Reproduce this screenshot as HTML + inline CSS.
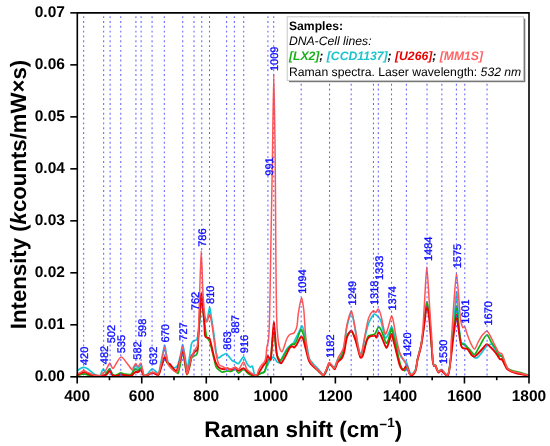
<!DOCTYPE html><html><head><meta charset="utf-8"><style>html,body{margin:0;padding:0;background:#fff;}svg{display:block;font-family:"Liberation Sans",Arial,sans-serif;text-rendering:geometricPrecision;}</style></head><body>
<svg width="550" height="446" viewBox="0 0 550 446">
<rect width="550" height="446" fill="#fff"/>
<path d="M77.50,370.60 C77.84,370.36 79.64,368.87 80.40,368.50 C81.16,368.13 83.16,367.36 84.00,367.40 C84.84,367.44 86.75,368.30 87.60,368.80 C88.45,369.30 90.45,371.02 91.30,371.70 C92.15,372.38 93.89,374.13 94.90,374.60 C95.92,375.07 99.20,376.04 100.00,375.70 C100.80,375.36 101.41,372.50 101.80,371.70 C102.19,370.89 102.96,368.84 103.30,368.80 C103.64,368.76 104.33,370.97 104.70,371.40 C105.07,371.83 106.07,372.63 106.50,372.50 C106.93,372.37 108.02,370.69 108.40,370.30 C108.79,369.92 109.43,368.94 109.80,369.20 C110.17,369.46 111.21,371.82 111.60,372.50 C111.98,373.18 112.59,374.62 113.10,375.00 C113.61,375.38 114.73,375.71 116.00,375.80 C117.27,375.89 122.24,375.88 124.00,375.80 C125.76,375.72 130.01,375.73 131.10,375.10 C132.19,374.47 132.75,371.51 133.30,370.40 C133.85,369.29 135.25,365.86 135.80,365.60 C136.35,365.34 137.41,368.24 138.00,368.20 C138.59,368.16 140.38,365.09 140.90,365.30 C141.43,365.51 142.16,368.86 142.50,370.00 C142.84,371.14 143.28,374.58 143.80,375.10 C144.33,375.62 146.00,375.22 147.00,374.50 C148.00,373.78 151.07,369.03 152.40,368.90 C153.73,368.77 157.40,374.20 158.40,373.40 C159.40,372.59 160.28,365.24 161.00,362.00 C161.72,358.76 163.98,346.53 164.60,345.60 C165.22,344.67 165.89,352.05 166.30,354.00 C166.71,355.95 167.67,361.07 168.10,362.30 C168.53,363.53 169.35,363.86 170.00,364.50 C170.65,365.14 172.80,367.71 173.70,367.80 C174.60,367.89 176.88,366.89 177.70,365.30 C178.52,363.71 180.12,356.62 180.70,354.20 C181.28,351.78 182.22,344.48 182.70,344.60 C183.18,344.72 184.33,352.57 184.80,355.20 C185.27,357.82 186.38,365.61 186.70,367.10 C187.01,368.59 187.19,369.10 187.50,368.00 C187.81,366.90 188.94,360.48 189.40,357.70 C189.86,354.92 190.93,346.16 191.40,344.20 C191.87,342.24 192.85,341.37 193.40,340.90 C193.95,340.43 195.62,340.60 196.10,340.20 C196.58,339.80 197.10,339.27 197.50,337.50 C197.90,335.73 199.06,329.84 199.50,325.00 C199.94,320.16 200.89,297.75 201.30,296.00 C201.71,294.25 202.57,307.43 203.00,310.00 C203.43,312.57 204.52,316.81 205.00,318.00 C205.48,319.19 206.56,321.41 207.10,320.20 C207.64,318.99 209.12,308.07 209.60,307.60 C210.08,307.13 210.78,313.67 211.20,316.20 C211.62,318.73 212.79,326.48 213.20,329.30 C213.61,332.12 214.35,337.70 214.70,340.40 C215.05,343.09 215.77,350.35 216.20,352.40 C216.63,354.45 217.75,357.60 218.40,358.00 C219.05,358.40 220.88,356.32 221.80,355.80 C222.72,355.28 225.45,353.37 226.30,353.50 C227.15,353.63 228.45,356.11 229.10,356.90 C229.75,357.69 231.21,359.70 231.90,360.30 C232.59,360.90 234.22,361.62 235.00,362.00 C235.78,362.38 237.61,364.20 238.60,363.60 C239.59,363.00 242.53,356.90 243.50,356.90 C244.47,356.90 246.11,362.42 246.90,363.60 C247.69,364.78 249.65,366.67 250.30,367.00 C250.95,367.33 252.00,365.49 252.50,366.40 C253.00,367.31 254.02,373.82 254.60,374.80 C255.18,375.78 256.72,375.00 257.50,374.80 C258.28,374.60 260.47,373.49 261.30,373.10 C262.13,372.72 263.82,372.61 264.60,371.50 C265.38,370.39 267.21,365.05 268.00,363.60 C268.79,362.15 270.80,359.88 271.40,359.10 C272.00,358.32 272.65,356.90 273.10,356.90 C273.56,356.90 274.85,358.52 275.30,359.10 C275.75,359.68 276.45,361.50 277.00,361.90 C277.55,362.30 279.32,363.15 280.00,362.50 C280.68,361.85 282.01,357.89 282.80,356.30 C283.59,354.71 285.87,350.23 286.80,348.90 C287.73,347.57 290.02,345.60 290.80,344.90 C291.58,344.20 292.87,343.76 293.50,342.90 C294.13,342.04 295.57,338.76 296.20,337.50 C296.83,336.24 298.19,333.43 298.90,332.10 C299.61,330.77 301.59,325.62 302.30,326.10 C303.01,326.58 304.30,332.99 305.00,336.20 C305.70,339.41 307.78,350.93 308.30,353.60 C308.82,356.27 308.83,357.81 309.50,359.10 C310.17,360.40 312.96,363.52 314.00,364.70 C315.04,365.88 317.36,368.02 318.40,369.20 C319.44,370.38 322.07,374.30 322.90,374.80 C323.73,375.30 324.96,374.18 325.50,373.50 C326.04,372.82 327.08,370.13 327.50,369.00 C327.92,367.87 328.59,364.21 329.10,363.80 C329.61,363.39 331.25,365.13 331.90,365.50 C332.55,365.87 334.05,367.68 334.70,367.00 C335.35,366.32 336.78,361.01 337.50,359.70 C338.22,358.39 340.18,357.05 340.90,355.80 C341.62,354.55 343.00,352.36 343.70,349.00 C344.40,345.64 346.00,331.26 346.90,327.00 C347.80,322.74 350.47,312.38 351.40,312.50 C352.33,312.62 354.07,323.86 354.90,328.00 C355.73,332.14 357.76,344.90 358.50,348.00 C359.24,351.10 360.46,355.77 361.20,354.60 C361.94,353.43 363.94,341.65 364.80,338.00 C365.66,334.35 367.53,326.06 368.60,323.30 C369.67,320.54 372.86,315.04 374.00,314.30 C375.14,313.56 377.57,316.16 378.40,317.00 C379.23,317.84 380.31,319.08 381.10,321.50 C381.89,323.92 384.36,336.24 385.20,337.70 C386.04,339.16 387.56,335.26 388.30,334.00 C389.04,332.74 390.89,327.13 391.50,326.90 C392.11,326.67 392.99,330.32 393.50,332.00 C394.01,333.68 395.32,339.20 395.90,341.30 C396.48,343.40 397.87,348.12 398.50,350.00 C399.13,351.88 400.55,356.12 401.30,357.40 C402.05,358.68 404.27,360.37 404.90,361.00 C405.53,361.63 406.18,361.57 406.70,362.80 C407.22,364.03 408.77,370.16 409.40,371.50 C410.03,372.84 411.37,374.59 412.10,374.30 C412.84,374.01 415.07,370.77 415.70,369.00 C416.33,367.23 416.87,361.92 417.50,359.10 C418.13,356.28 420.37,348.56 421.10,344.80 C421.84,341.04 423.28,330.96 423.80,326.90 C424.32,322.84 425.25,312.79 425.60,310.00 C425.95,307.21 426.50,303.23 426.80,303.00 C427.10,302.77 427.92,306.95 428.20,308.00 C428.48,309.05 428.87,308.73 429.20,312.00 C429.53,315.27 430.58,330.30 431.00,336.00 C431.42,341.70 432.45,357.46 432.80,360.90 C433.15,364.34 433.69,365.02 434.00,365.50 C434.31,365.98 435.21,364.71 435.50,365.00 C435.79,365.29 436.16,367.24 436.50,368.00 C436.84,368.76 437.85,371.32 438.40,371.50 C438.95,371.68 440.48,369.32 441.20,369.50 C441.92,369.68 443.88,372.31 444.60,373.00 C445.32,373.69 446.89,375.59 447.40,375.40 C447.91,375.21 448.62,373.43 449.00,371.40 C449.38,369.37 450.30,361.52 450.70,358.00 C451.10,354.48 451.98,345.87 452.40,341.20 C452.82,336.53 453.81,323.76 454.30,318.00 C454.79,312.24 456.17,292.73 456.60,291.80 C457.03,290.87 457.69,305.61 458.00,310.00 C458.31,314.39 458.94,325.67 459.30,329.40 C459.66,333.13 460.47,340.32 461.10,342.00 C461.73,343.68 463.86,342.97 464.70,343.80 C465.54,344.63 467.36,347.68 468.30,349.10 C469.25,350.52 471.97,354.96 472.80,356.00 C473.63,357.04 474.85,357.82 475.40,358.00 C475.95,358.18 476.87,357.97 477.50,357.50 C478.13,357.03 480.04,354.93 480.80,354.00 C481.56,353.07 483.30,350.43 484.00,349.50 C484.70,348.57 486.22,346.57 486.80,346.00 C487.38,345.43 488.39,344.80 489.00,344.60 C489.61,344.40 491.37,343.79 492.00,344.30 C492.63,344.81 493.64,347.90 494.40,349.00 C495.16,350.10 497.64,352.84 498.50,353.70 C499.36,354.56 501.17,355.45 501.80,356.40 C502.43,357.34 503.27,360.39 503.90,361.80 C504.53,363.21 506.25,367.43 507.20,368.50 C508.14,369.57 510.82,370.53 512.00,371.00 C513.18,371.47 516.05,372.15 517.30,372.50 C518.55,372.85 521.39,373.60 522.70,374.00 C524.01,374.40 527.82,375.68 528.50,375.90" fill="none" stroke="#14c8d8" stroke-width="1.7" stroke-linejoin="round" stroke-linecap="round"/>
<path d="M77.50,375.50 C78.26,375.30 82.54,373.80 84.00,373.80 C85.46,373.80 88.13,375.24 90.00,375.50 C91.87,375.76 98.25,376.11 100.00,376.00 C101.75,375.89 104.15,375.07 105.00,374.60 C105.85,374.13 106.74,372.71 107.30,372.00 C107.86,371.29 109.30,368.38 109.80,368.50 C110.30,368.62 111.21,372.24 111.60,373.00 C111.98,373.76 112.59,374.77 113.10,375.00 C113.61,375.23 115.09,375.25 116.00,375.00 C116.91,374.75 119.91,372.99 120.90,372.90 C121.89,372.81 123.31,374.02 124.50,374.20 C125.69,374.38 130.05,374.77 131.10,374.40 C132.15,374.03 132.95,371.64 133.50,371.00 C134.05,370.36 135.28,368.98 135.80,368.90 C136.33,368.82 137.41,370.43 138.00,370.30 C138.59,370.17 140.38,367.66 140.90,367.80 C141.43,367.94 142.16,370.62 142.50,371.50 C142.84,372.38 143.28,374.86 143.80,375.30 C144.33,375.74 146.00,375.63 147.00,375.30 C148.00,374.97 151.07,372.59 152.40,372.50 C153.73,372.41 157.40,375.14 158.40,374.50 C159.40,373.86 160.28,369.04 161.00,367.00 C161.72,364.96 163.96,357.64 164.60,357.00 C165.24,356.36 166.09,360.68 166.50,361.50 C166.91,362.32 167.68,363.53 168.10,364.00 C168.52,364.47 169.16,364.57 170.10,365.50 C171.04,366.43 175.25,371.12 176.20,372.00 C177.14,372.88 177.76,373.70 178.20,373.00 C178.64,372.30 179.47,368.45 180.00,366.00 C180.53,363.55 182.12,352.23 182.70,352.00 C183.28,351.77 184.51,361.38 185.00,364.00 C185.49,366.62 186.38,374.15 186.90,374.50 C187.43,374.85 188.97,368.87 189.50,367.00 C190.03,365.13 190.94,359.75 191.40,358.50 C191.86,357.25 192.85,356.71 193.40,356.30 C193.95,355.89 195.62,355.50 196.10,355.00 C196.58,354.50 197.23,354.10 197.50,352.00 C197.77,349.90 198.11,341.67 198.40,337.00 C198.69,332.33 199.65,316.67 200.00,312.00 C200.35,307.33 201.11,297.82 201.40,297.00 C201.69,296.18 202.19,302.32 202.50,305.00 C202.81,307.68 203.74,316.97 204.10,320.00 C204.46,323.03 205.31,329.07 205.60,331.00 C205.89,332.93 206.27,335.51 206.60,336.50 C206.93,337.49 208.00,338.86 208.40,339.50 C208.80,340.14 209.62,340.89 210.00,342.00 C210.38,343.11 211.23,347.07 211.70,349.00 C212.17,350.93 213.47,356.40 214.00,358.50 C214.53,360.60 215.29,365.43 216.20,367.00 C217.11,368.57 220.49,371.55 221.80,372.00 C223.11,372.45 226.35,370.96 227.40,370.90 C228.45,370.84 229.88,371.70 230.80,371.50 C231.72,371.30 234.39,369.01 235.30,369.20 C236.21,369.39 237.64,373.10 238.60,373.10 C239.56,373.10 242.40,369.15 243.50,369.20 C244.60,369.25 246.95,372.76 248.00,373.50 C249.05,374.24 251.47,375.27 252.50,375.50 C253.53,375.73 255.77,375.78 256.80,375.50 C257.83,375.22 260.39,373.57 261.30,373.10 C262.21,372.63 263.82,372.99 264.60,371.50 C265.38,370.01 267.28,361.82 268.00,360.30 C268.72,358.78 270.29,360.87 270.80,358.50 C271.31,356.13 272.05,343.09 272.40,340.00 C272.75,336.91 273.44,331.42 273.80,332.00 C274.16,332.58 275.13,342.32 275.50,345.00 C275.87,347.68 276.46,353.20 277.00,355.00 C277.54,356.80 279.40,360.17 280.10,360.40 C280.80,360.63 282.22,358.15 283.00,357.00 C283.78,355.85 285.73,351.99 286.80,350.50 C287.87,349.01 291.34,344.90 292.20,344.20 C293.06,343.50 293.65,344.99 294.20,344.50 C294.75,344.01 296.12,341.76 296.90,340.00 C297.68,338.24 300.13,329.98 300.90,329.40 C301.67,328.82 302.95,333.30 303.50,335.00 C304.05,336.70 305.04,341.43 305.60,344.00 C306.16,346.57 307.72,354.78 308.30,357.00 C308.88,359.22 309.94,361.83 310.60,363.00 C311.27,364.17 313.22,366.18 314.00,367.00 C314.78,367.82 316.52,369.26 317.30,370.00 C318.08,370.74 319.98,372.66 320.70,373.30 C321.42,373.94 322.79,376.00 323.50,375.50 C324.21,375.00 326.15,370.40 326.80,369.00 C327.45,367.60 328.51,363.85 329.10,363.50 C329.69,363.15 331.25,365.42 331.90,366.00 C332.55,366.58 334.05,369.02 334.70,368.50 C335.35,367.98 336.82,362.73 337.50,361.50 C338.18,360.27 339.78,359.23 340.50,358.00 C341.22,356.77 342.95,353.57 343.70,351.00 C344.45,348.43 346.00,338.29 346.90,336.00 C347.80,333.71 350.36,330.93 351.40,331.40 C352.44,331.87 354.76,337.13 355.80,340.00 C356.84,342.87 359.46,354.37 360.30,356.00 C361.14,357.63 362.26,355.87 363.00,354.00 C363.74,352.13 365.95,342.12 366.60,340.00 C367.25,337.88 367.63,336.50 368.60,335.80 C369.57,335.10 373.76,335.04 374.90,334.00 C376.04,332.96 377.68,327.37 378.40,326.90 C379.12,326.43 380.20,328.12 381.10,330.00 C382.00,331.88 385.24,341.89 386.10,343.00 C386.96,344.11 387.87,341.17 388.50,339.50 C389.13,337.83 390.92,329.11 391.50,328.70 C392.08,328.29 392.99,334.16 393.50,336.00 C394.01,337.84 395.32,342.05 395.90,344.50 C396.48,346.95 397.87,354.34 398.50,357.00 C399.13,359.66 400.55,365.68 401.30,367.30 C402.05,368.92 404.27,370.94 404.90,370.90 C405.53,370.86 406.18,366.72 406.70,367.00 C407.22,367.28 408.77,372.39 409.40,373.30 C410.03,374.21 411.37,375.19 412.10,374.80 C412.84,374.42 415.07,371.79 415.70,370.00 C416.33,368.21 416.87,362.42 417.50,359.50 C418.13,356.58 420.37,348.79 421.10,345.00 C421.84,341.21 423.28,330.85 423.80,327.00 C424.32,323.15 425.25,314.90 425.60,312.00 C425.95,309.10 426.50,302.57 426.80,302.10 C427.10,301.63 427.92,306.73 428.20,308.00 C428.48,309.27 428.87,309.62 429.20,313.00 C429.53,316.38 430.58,331.40 431.00,337.00 C431.42,342.60 432.45,357.64 432.80,361.00 C433.15,364.36 433.69,365.29 434.00,365.80 C434.31,366.31 435.21,365.14 435.50,365.40 C435.79,365.66 436.16,367.23 436.50,368.00 C436.84,368.77 437.85,371.79 438.40,372.00 C438.95,372.21 440.48,369.67 441.20,369.80 C441.92,369.93 443.88,372.45 444.60,373.10 C445.32,373.75 446.89,375.60 447.40,375.40 C447.91,375.20 448.62,373.43 449.00,371.40 C449.38,369.37 450.30,361.52 450.70,358.00 C451.10,354.48 451.98,345.05 452.40,341.20 C452.82,337.35 453.81,329.09 454.30,325.00 C454.79,320.91 456.17,306.68 456.60,306.10 C457.03,305.52 457.69,317.10 458.00,320.00 C458.31,322.90 458.94,328.32 459.30,331.00 C459.66,333.68 460.47,341.37 461.10,343.00 C461.73,344.63 463.65,344.18 464.70,345.00 C465.75,345.82 468.94,348.89 470.10,350.00 C471.26,351.11 473.56,354.81 474.60,354.50 C475.64,354.19 478.02,348.99 479.00,347.30 C479.98,345.61 482.06,341.46 483.00,340.00 C483.94,338.54 486.09,334.46 487.10,334.80 C488.12,335.14 490.69,341.32 491.70,342.90 C492.71,344.47 494.93,346.81 495.80,348.30 C496.68,349.79 498.42,354.75 499.20,355.70 C499.98,356.64 501.88,355.69 502.50,356.40 C503.12,357.11 503.87,360.39 504.50,361.80 C505.13,363.21 507.02,367.49 507.90,368.50 C508.77,369.51 510.90,370.10 512.00,370.50 C513.10,370.90 516.05,371.58 517.30,371.90 C518.55,372.21 521.59,372.88 522.70,373.20 C523.81,373.51 526.12,374.33 526.80,374.60 C527.48,374.87 528.30,375.39 528.50,375.50" fill="none" stroke="#12b012" stroke-width="1.7" stroke-linejoin="round" stroke-linecap="round"/>
<path d="M77.50,375.00 C78.26,374.66 82.82,372.28 84.00,372.10 C85.18,371.93 86.67,373.16 87.60,373.50 C88.53,373.84 90.55,374.71 92.00,375.00 C93.45,375.29 98.31,376.05 100.00,376.00 C101.69,375.95 105.36,375.23 106.50,374.60 C107.64,373.97 109.20,370.64 109.80,370.60 C110.39,370.56 111.21,373.73 111.60,374.30 C111.98,374.87 112.59,375.30 113.10,375.50 C113.61,375.70 115.09,376.13 116.00,376.00 C116.91,375.87 119.73,374.46 120.90,374.40 C122.07,374.34 124.73,375.37 126.00,375.50 C127.27,375.63 130.93,375.73 131.80,375.50 C132.68,375.27 133.03,373.93 133.50,373.50 C133.97,373.07 135.28,371.95 135.80,371.80 C136.33,371.65 137.41,372.41 138.00,372.20 C138.59,371.99 140.38,369.91 140.90,370.00 C141.43,370.09 142.16,372.36 142.50,373.00 C142.84,373.64 143.28,375.21 143.80,375.50 C144.33,375.79 146.00,375.83 147.00,375.50 C148.00,375.17 151.07,372.77 152.40,372.70 C153.73,372.63 157.40,375.45 158.40,374.90 C159.40,374.35 160.28,370.01 161.00,368.00 C161.72,365.99 163.96,358.52 164.60,357.70 C165.24,356.88 166.09,360.35 166.50,361.00 C166.91,361.65 167.68,362.92 168.10,363.30 C168.52,363.69 169.16,363.41 170.10,364.30 C171.04,365.19 175.10,371.17 176.20,370.90 C177.30,370.63 178.74,364.42 179.50,362.00 C180.26,359.58 182.06,350.20 182.70,350.20 C183.34,350.20 184.51,359.22 185.00,362.00 C185.49,364.78 186.38,373.53 186.90,374.00 C187.43,374.47 188.97,368.06 189.50,366.00 C190.03,363.94 190.94,357.75 191.40,356.30 C191.86,354.85 192.93,354.22 193.40,353.60 C193.87,352.98 194.92,351.47 195.40,351.00 C195.88,350.53 197.15,351.37 197.50,349.60 C197.85,347.83 198.11,340.42 198.40,335.80 C198.69,331.18 199.65,314.94 200.00,310.00 C200.35,305.06 201.11,294.08 201.40,293.50 C201.69,292.92 202.19,301.88 202.50,305.00 C202.81,308.12 203.81,316.63 204.10,320.20 C204.39,323.77 204.64,333.55 205.00,335.60 C205.36,337.65 206.67,337.47 207.20,337.80 C207.72,338.13 208.97,337.35 209.50,338.40 C210.03,339.45 211.17,344.64 211.70,346.80 C212.22,348.96 213.47,354.94 214.00,356.90 C214.53,358.86 215.55,362.29 216.20,363.60 C216.85,364.91 218.69,367.45 219.60,368.10 C220.51,368.75 223.09,369.20 224.00,369.20 C224.91,369.20 226.61,368.03 227.40,368.10 C228.19,368.17 229.88,369.87 230.80,369.80 C231.72,369.73 234.39,367.37 235.30,367.50 C236.21,367.63 237.64,370.83 238.60,370.90 C239.56,370.97 242.40,367.97 243.50,368.10 C244.60,368.23 246.95,371.22 248.00,372.00 C249.05,372.78 251.47,374.40 252.50,374.80 C253.53,375.20 255.97,375.78 256.80,375.40 C257.63,375.01 258.95,372.48 259.60,371.50 C260.25,370.52 261.88,367.79 262.40,367.00 C262.92,366.21 263.70,365.22 264.10,364.70 C264.50,364.18 265.40,363.54 265.80,362.50 C266.20,361.46 267.12,356.32 267.50,355.80 C267.88,355.28 268.72,357.62 269.10,358.00 C269.49,358.38 270.43,361.06 270.80,359.10 C271.17,357.14 271.95,345.47 272.30,341.20 C272.65,336.93 273.43,322.64 273.80,322.50 C274.17,322.36 275.16,336.37 275.50,340.00 C275.84,343.63 276.33,351.22 276.70,353.60 C277.07,355.98 278.15,359.29 278.70,360.40 C279.25,361.51 280.61,363.58 281.40,363.10 C282.19,362.62 284.56,358.03 285.50,356.30 C286.44,354.57 288.72,349.48 289.50,348.30 C290.28,347.12 291.65,346.28 292.20,346.20 C292.75,346.12 293.65,347.83 294.20,347.60 C294.75,347.37 296.12,345.46 296.90,344.20 C297.68,342.94 300.19,337.43 300.90,336.80 C301.61,336.17 302.45,337.46 303.00,338.80 C303.55,340.14 304.98,345.94 305.60,348.30 C306.22,350.66 307.72,357.21 308.30,359.00 C308.88,360.79 309.94,362.67 310.60,363.60 C311.27,364.53 313.22,366.28 314.00,367.00 C314.78,367.72 316.52,369.09 317.30,369.80 C318.08,370.51 319.98,372.45 320.70,373.10 C321.42,373.75 322.79,375.85 323.50,375.40 C324.21,374.94 326.15,370.63 326.80,369.20 C327.45,367.76 328.51,363.49 329.10,363.10 C329.69,362.72 331.25,365.19 331.90,365.90 C332.55,366.61 334.05,369.60 334.70,369.20 C335.35,368.80 336.92,363.54 337.50,362.50 C338.08,361.46 339.18,360.82 339.70,360.30 C340.22,359.78 341.48,358.92 342.00,358.00 C342.52,357.08 343.63,354.78 344.20,352.40 C344.77,350.02 346.06,340.16 346.90,337.60 C347.74,335.05 350.36,330.08 351.40,330.50 C352.44,330.92 354.76,338.07 355.80,341.20 C356.84,344.33 359.46,355.69 360.30,357.30 C361.14,358.91 362.26,356.88 363.00,355.00 C363.74,353.12 365.84,343.33 366.60,341.20 C367.36,339.06 368.53,337.33 369.50,336.70 C370.47,336.07 374.07,335.69 374.90,335.80 C375.73,335.91 376.19,338.01 376.60,337.60 C377.01,337.19 377.88,332.51 378.40,332.30 C378.92,332.09 380.20,334.03 381.10,335.80 C382.00,337.57 385.24,346.60 386.10,347.50 C386.96,348.40 387.87,345.06 388.50,343.50 C389.13,341.94 390.92,334.39 391.50,334.10 C392.08,333.81 392.99,339.12 393.50,341.00 C394.01,342.88 395.20,347.45 395.90,350.20 C396.60,352.95 398.66,362.29 399.50,364.60 C400.34,366.91 402.26,369.89 403.10,370.00 C403.94,370.11 405.96,365.09 406.70,365.50 C407.44,365.91 408.77,372.36 409.40,373.50 C410.03,374.64 411.37,375.65 412.10,375.30 C412.84,374.95 415.07,372.29 415.70,370.50 C416.33,368.71 416.87,362.86 417.50,360.00 C418.13,357.14 420.37,349.73 421.10,346.00 C421.84,342.27 423.28,331.85 423.80,328.00 C424.32,324.15 425.25,315.50 425.60,313.00 C425.95,310.50 426.50,306.72 426.80,306.60 C427.10,306.48 427.92,310.67 428.20,312.00 C428.48,313.33 428.87,314.97 429.20,318.00 C429.53,321.03 430.58,332.93 431.00,338.00 C431.42,343.07 432.45,358.23 432.80,361.50 C433.15,364.77 433.69,365.48 434.00,366.00 C434.31,366.52 435.21,365.71 435.50,366.00 C435.79,366.29 436.16,367.74 436.50,368.50 C436.84,369.26 437.85,372.27 438.40,372.50 C438.95,372.73 440.48,370.35 441.20,370.50 C441.92,370.65 443.88,373.16 444.60,373.80 C445.32,374.44 446.89,376.21 447.40,376.00 C447.91,375.79 448.62,373.87 449.00,372.00 C449.38,370.13 450.30,363.15 450.70,360.00 C451.10,356.85 451.98,348.50 452.40,345.00 C452.82,341.50 453.81,333.49 454.30,330.00 C454.79,326.51 456.17,315.68 456.60,315.10 C457.03,314.52 457.69,322.70 458.00,325.00 C458.31,327.30 458.94,332.40 459.30,334.80 C459.66,337.20 460.68,344.04 461.10,345.60 C461.52,347.16 462.16,347.79 462.90,348.20 C463.63,348.61 466.35,348.26 467.40,349.10 C468.45,349.94 471.07,354.54 471.90,355.40 C472.73,356.26 473.96,356.55 474.50,356.50 C475.04,356.45 475.86,355.58 476.50,355.00 C477.14,354.42 479.18,352.38 480.00,351.50 C480.82,350.62 482.71,348.36 483.50,347.50 C484.29,346.64 485.84,344.01 486.80,344.10 C487.76,344.19 490.65,347.26 491.70,348.30 C492.75,349.34 494.86,351.74 495.80,353.00 C496.75,354.26 499.10,358.39 499.80,359.10 C500.50,359.81 501.32,358.63 501.80,359.10 C502.28,359.57 503.27,361.92 503.90,363.10 C504.53,364.28 506.25,368.17 507.20,369.20 C508.14,370.23 510.82,371.40 512.00,371.90 C513.18,372.40 516.05,373.20 517.30,373.50 C518.55,373.80 521.39,374.22 522.70,374.50 C524.01,374.78 527.82,375.74 528.50,375.90" fill="none" stroke="#ee0000" stroke-width="1.9" stroke-linejoin="round" stroke-linecap="round"/>
<path d="M77.50,373.90 C77.84,373.74 79.64,372.88 80.40,372.50 C81.16,372.12 83.24,370.65 84.00,370.60 C84.76,370.55 86.14,371.76 86.90,372.10 C87.66,372.44 89.57,373.12 90.50,373.50 C91.43,373.88 93.62,375.22 94.90,375.40 C96.18,375.57 100.52,375.30 101.50,375.00 C102.48,374.70 102.88,373.22 103.30,372.80 C103.72,372.38 104.63,372.03 105.10,371.40 C105.57,370.77 106.75,368.38 107.30,367.40 C107.85,366.42 109.30,363.09 109.80,363.00 C110.30,362.91 111.16,366.02 111.60,366.60 C112.04,367.18 112.47,369.13 113.60,368.00 C114.73,366.87 119.18,356.71 121.30,356.90 C123.42,357.09 130.38,368.42 131.80,369.60 C133.22,370.78 133.03,367.71 133.50,367.00 C133.97,366.29 135.28,363.54 135.80,363.50 C136.33,363.46 137.41,366.75 138.00,366.70 C138.59,366.65 140.39,362.83 140.90,363.10 C141.41,363.37 142.06,367.60 142.40,369.00 C142.74,370.40 143.26,374.39 143.80,375.10 C144.34,375.81 146.00,375.46 147.00,375.10 C148.00,374.74 151.41,372.25 152.40,372.00 C153.39,371.75 154.80,372.79 155.50,373.00 C156.20,373.21 157.76,374.73 158.40,373.80 C159.04,372.87 160.46,367.31 161.00,365.00 C161.54,362.69 162.58,356.03 163.00,354.00 C163.42,351.97 164.22,347.37 164.60,347.60 C164.98,347.83 165.89,354.05 166.30,356.00 C166.71,357.95 167.54,362.87 168.10,364.30 C168.66,365.74 170.16,367.36 171.10,368.30 C172.04,369.25 175.34,372.44 176.20,372.40 C177.06,372.36 177.97,369.91 178.50,368.00 C179.03,366.09 180.21,358.56 180.70,356.00 C181.19,353.44 182.22,345.87 182.70,346.10 C183.18,346.33 184.30,354.76 184.80,358.00 C185.30,361.24 186.51,372.85 187.00,373.90 C187.49,374.95 188.50,368.83 189.00,367.00 C189.50,365.17 190.79,359.89 191.30,358.20 C191.81,356.51 192.92,353.57 193.40,352.50 C193.88,351.43 194.96,349.76 195.40,349.00 C195.84,348.24 196.86,347.63 197.20,346.00 C197.54,344.37 198.09,338.62 198.30,335.00 C198.51,331.38 198.84,320.02 199.00,315.00 C199.16,309.98 199.44,299.49 199.70,292.00 C199.96,284.51 200.83,250.80 201.20,250.80 C201.57,250.80 202.57,285.33 202.90,292.00 C203.23,298.67 203.78,305.29 204.00,308.00 C204.22,310.71 204.56,313.60 204.80,315.20 C205.05,316.80 205.77,321.06 206.10,321.70 C206.43,322.34 207.19,321.59 207.60,320.70 C208.01,319.81 209.12,313.81 209.60,314.10 C210.08,314.39 211.28,320.96 211.70,323.20 C212.12,325.44 212.85,330.76 213.20,333.30 C213.55,335.84 214.31,342.35 214.70,345.00 C215.08,347.65 216.00,353.73 216.50,356.00 C217.00,358.27 218.29,363.27 219.00,364.50 C219.71,365.73 221.70,366.01 222.60,366.50 C223.50,366.99 225.70,368.44 226.70,368.70 C227.70,368.96 230.22,368.83 231.20,368.70 C232.18,368.57 234.18,367.56 235.10,367.60 C236.02,367.64 238.12,369.65 239.10,369.00 C240.08,368.35 242.59,361.98 243.50,362.00 C244.41,362.02 245.98,367.89 246.90,369.20 C247.82,370.51 250.48,372.48 251.40,373.20 C252.32,373.92 254.32,375.17 254.80,375.40 C255.28,375.63 255.24,375.31 255.50,375.20 C255.76,375.09 256.59,375.20 257.00,374.50 C257.41,373.80 258.44,370.34 259.00,369.20 C259.56,368.06 261.20,365.48 261.80,364.70 C262.40,363.92 263.63,363.28 264.10,362.50 C264.57,361.72 265.47,359.83 265.80,358.00 C266.13,356.17 266.58,348.90 266.90,346.80 C267.21,344.70 268.19,343.48 268.50,340.00 C268.81,336.52 269.33,327.50 269.60,317.00 C269.87,306.50 270.47,268.32 270.80,250.00 C271.13,231.68 272.05,180.52 272.40,160.00 C272.75,139.48 273.47,74.10 273.80,74.10 C274.13,74.10 274.97,139.48 275.20,160.00 C275.43,180.52 275.64,231.68 275.80,250.00 C275.96,268.32 276.33,306.48 276.60,317.00 C276.87,327.52 277.69,336.40 278.10,340.20 C278.51,344.00 279.63,348.27 280.10,349.60 C280.57,350.93 281.63,351.92 282.10,351.60 C282.57,351.29 283.55,348.39 284.10,346.90 C284.65,345.41 286.17,340.21 286.80,338.80 C287.43,337.39 288.87,335.42 289.50,334.80 C290.13,334.18 291.65,333.73 292.20,333.50 C292.75,333.27 293.65,333.59 294.20,332.80 C294.75,332.01 296.41,329.03 296.90,326.70 C297.39,324.37 297.86,316.14 298.40,312.80 C298.94,309.46 300.87,298.40 301.50,298.10 C302.13,297.80 303.37,306.44 303.80,310.20 C304.23,313.96 304.88,326.24 305.20,330.30 C305.51,334.36 306.12,341.88 306.50,345.00 C306.88,348.12 307.98,354.96 308.50,357.00 C309.02,359.04 310.36,361.45 311.00,362.50 C311.64,363.55 313.26,365.21 314.00,366.00 C314.74,366.79 316.52,368.51 317.30,369.30 C318.08,370.09 320.00,372.11 320.70,372.80 C321.40,373.49 322.59,375.67 323.30,375.20 C324.01,374.73 326.12,370.27 326.80,368.80 C327.48,367.33 328.51,363.02 329.10,362.60 C329.69,362.18 331.25,364.57 331.90,365.20 C332.55,365.83 333.92,368.97 334.70,368.00 C335.48,367.03 337.87,358.65 338.60,356.90 C339.34,355.15 340.41,354.18 341.00,353.00 C341.59,351.82 343.01,350.06 343.70,346.80 C344.39,343.55 346.00,329.30 346.90,325.10 C347.80,320.90 350.47,310.59 351.40,310.80 C352.33,311.01 354.07,322.51 354.90,326.90 C355.73,331.29 357.76,345.05 358.50,348.40 C359.24,351.75 360.46,357.07 361.20,355.60 C361.94,354.13 363.94,340.20 364.80,335.80 C365.66,331.40 367.63,320.82 368.60,317.90 C369.57,314.98 372.26,311.43 373.10,310.80 C373.94,310.17 375.18,312.71 375.80,312.50 C376.42,312.29 377.78,308.58 378.40,309.00 C379.02,309.42 380.31,313.17 381.10,316.10 C381.89,319.03 384.36,332.84 385.20,334.10 C386.04,335.36 387.56,329.00 388.30,326.90 C389.04,324.80 390.89,316.67 391.50,316.10 C392.11,315.53 392.99,319.69 393.50,322.00 C394.01,324.31 395.20,332.40 395.90,335.90 C396.60,339.40 398.66,349.28 399.50,352.00 C400.34,354.72 402.26,357.62 403.10,359.20 C403.94,360.77 405.96,363.83 406.70,365.50 C407.44,367.17 408.77,372.46 409.40,373.50 C410.03,374.54 411.37,374.81 412.10,374.40 C412.84,373.99 415.07,371.78 415.70,370.00 C416.33,368.22 416.87,362.04 417.50,359.10 C418.13,356.16 420.46,348.56 421.10,344.80 C421.74,341.04 422.59,332.01 423.00,326.90 C423.41,321.79 424.16,308.01 424.60,301.00 C425.04,293.99 426.26,266.80 426.80,266.80 C427.34,266.80 428.77,294.79 429.20,301.00 C429.63,307.21 430.22,315.94 430.50,320.00 C430.78,324.06 431.33,331.03 431.60,335.80 C431.87,340.57 432.52,357.40 432.80,360.90 C433.08,364.40 433.69,365.28 434.00,365.80 C434.31,366.32 435.21,365.14 435.50,365.40 C435.79,365.66 436.16,367.23 436.50,368.00 C436.84,368.77 437.85,371.79 438.40,372.00 C438.95,372.21 440.71,370.03 441.20,369.80 C441.69,369.57 442.20,369.62 442.60,370.00 C443.00,370.38 444.04,372.47 444.60,373.10 C445.16,373.73 446.89,375.60 447.40,375.40 C447.91,375.20 448.62,373.43 449.00,371.40 C449.38,369.37 450.47,361.08 450.70,358.00 C450.93,354.92 450.82,348.50 451.00,345.00 C451.18,341.50 451.85,333.13 452.20,328.00 C452.55,322.87 453.50,307.39 454.00,301.00 C454.50,294.61 455.92,273.20 456.50,273.20 C457.08,273.20 458.56,295.77 459.00,301.00 C459.44,306.23 460.01,315.32 460.30,318.00 C460.59,320.68 461.20,322.88 461.50,324.00 C461.80,325.12 462.53,327.29 462.90,327.60 C463.27,327.92 464.18,325.86 464.70,326.70 C465.22,327.54 466.66,332.81 467.40,334.80 C468.13,336.80 470.16,342.13 471.00,343.80 C471.84,345.47 473.76,349.31 474.60,349.10 C475.44,348.89 477.27,343.67 478.20,342.00 C479.13,340.33 481.56,336.06 482.60,334.80 C483.64,333.54 486.19,331.04 487.10,331.20 C488.01,331.36 489.55,334.67 490.40,336.20 C491.25,337.73 493.45,342.42 494.40,344.30 C495.34,346.18 497.64,351.20 498.50,352.30 C499.36,353.40 501.17,352.91 501.80,353.70 C502.43,354.49 503.27,357.46 503.90,359.10 C504.53,360.75 506.25,366.39 507.20,367.80 C508.14,369.21 510.82,370.64 512.00,371.20 C513.18,371.76 516.05,372.29 517.30,372.60 C518.55,372.92 521.75,373.67 522.70,373.90 C523.65,374.13 524.72,374.37 525.40,374.60 C526.08,374.83 528.14,375.75 528.50,375.90" fill="none" stroke="#ff5555" stroke-width="1.5" stroke-linejoin="round" stroke-linecap="round"/>
<line x1="83.65" y1="13.9" x2="83.65" y2="376.3" stroke="#6262ff" stroke-width="1.05" stroke-dasharray="1.9 2.93" stroke-dashoffset="2.58"/>
<line x1="103.66" y1="13.9" x2="103.66" y2="376.3" stroke="#6262ff" stroke-width="1.05" stroke-dasharray="1.9 2.93" stroke-dashoffset="2.58"/>
<line x1="110.12" y1="13.9" x2="110.12" y2="376.3" stroke="#6262ff" stroke-width="1.05" stroke-dasharray="1.9 2.93" stroke-dashoffset="2.58"/>
<line x1="120.77" y1="13.9" x2="120.77" y2="376.3" stroke="#6262ff" stroke-width="1.05" stroke-dasharray="1.9 2.93" stroke-dashoffset="2.58"/>
<line x1="135.93" y1="13.9" x2="135.93" y2="376.3" stroke="#6262ff" stroke-width="1.05" stroke-dasharray="1.9 2.93" stroke-dashoffset="2.58"/>
<line x1="141.10" y1="13.9" x2="141.10" y2="376.3" stroke="#6262ff" stroke-width="1.05" stroke-dasharray="1.9 2.93" stroke-dashoffset="2.58"/>
<line x1="152.07" y1="13.9" x2="152.07" y2="376.3" stroke="#6262ff" stroke-width="1.05" stroke-dasharray="1.9 2.93" stroke-dashoffset="2.58"/>
<line x1="164.33" y1="13.9" x2="164.33" y2="376.3" stroke="#6262ff" stroke-width="1.05" stroke-dasharray="1.9 2.93" stroke-dashoffset="2.58"/>
<line x1="182.73" y1="13.9" x2="182.73" y2="376.3" stroke="#6262ff" stroke-width="1.05" stroke-dasharray="1.9 2.93" stroke-dashoffset="2.58"/>
<line x1="194.02" y1="13.9" x2="194.02" y2="376.3" stroke="#6262ff" stroke-width="1.05" stroke-dasharray="1.9 2.93" stroke-dashoffset="2.58"/>
<line x1="201.77" y1="13.9" x2="201.77" y2="376.3" stroke="#6262ff" stroke-width="1.05" stroke-dasharray="1.9 2.93" stroke-dashoffset="2.58"/>
<line x1="209.51" y1="13.9" x2="209.51" y2="376.3" stroke="#6262ff" stroke-width="1.05" stroke-dasharray="1.9 2.93" stroke-dashoffset="2.58"/>
<line x1="226.61" y1="13.9" x2="226.61" y2="376.3" stroke="#6262ff" stroke-width="1.05" stroke-dasharray="1.9 2.93" stroke-dashoffset="2.58"/>
<line x1="234.36" y1="13.9" x2="234.36" y2="376.3" stroke="#6262ff" stroke-width="1.05" stroke-dasharray="1.9 2.93" stroke-dashoffset="2.58"/>
<line x1="243.72" y1="13.9" x2="243.72" y2="376.3" stroke="#6262ff" stroke-width="1.05" stroke-dasharray="1.9 2.93" stroke-dashoffset="2.58"/>
<line x1="267.92" y1="13.9" x2="267.92" y2="376.3" stroke="#6262ff" stroke-width="1.05" stroke-dasharray="1.9 2.93" stroke-dashoffset="2.58"/>
<line x1="273.73" y1="13.9" x2="273.73" y2="376.3" stroke="#6262ff" stroke-width="1.05" stroke-dasharray="1.9 2.93" stroke-dashoffset="2.58"/>
<line x1="301.16" y1="13.9" x2="301.16" y2="376.3" stroke="#6262ff" stroke-width="1.05" stroke-dasharray="1.9 2.93" stroke-dashoffset="2.58"/>
<line x1="329.56" y1="13.9" x2="329.56" y2="376.3" stroke="#6262ff" stroke-width="1.05" stroke-dasharray="1.9 2.93" stroke-dashoffset="2.58"/>
<line x1="351.18" y1="13.9" x2="351.18" y2="376.3" stroke="#6262ff" stroke-width="1.05" stroke-dasharray="1.9 2.93" stroke-dashoffset="2.58"/>
<line x1="373.45" y1="13.9" x2="373.45" y2="376.3" stroke="#6262ff" stroke-width="1.05" stroke-dasharray="1.9 2.93" stroke-dashoffset="2.58"/>
<line x1="378.29" y1="13.9" x2="378.29" y2="376.3" stroke="#6262ff" stroke-width="1.05" stroke-dasharray="1.9 2.93" stroke-dashoffset="2.58"/>
<line x1="391.52" y1="13.9" x2="391.52" y2="376.3" stroke="#6262ff" stroke-width="1.05" stroke-dasharray="1.9 2.93" stroke-dashoffset="2.58"/>
<line x1="406.36" y1="13.9" x2="406.36" y2="376.3" stroke="#6262ff" stroke-width="1.05" stroke-dasharray="1.9 2.93" stroke-dashoffset="2.58"/>
<line x1="427.02" y1="13.9" x2="427.02" y2="376.3" stroke="#6262ff" stroke-width="1.05" stroke-dasharray="1.9 2.93" stroke-dashoffset="2.58"/>
<line x1="441.86" y1="13.9" x2="441.86" y2="376.3" stroke="#6262ff" stroke-width="1.05" stroke-dasharray="1.9 2.93" stroke-dashoffset="2.58"/>
<line x1="456.38" y1="13.9" x2="456.38" y2="376.3" stroke="#6262ff" stroke-width="1.05" stroke-dasharray="1.9 2.93" stroke-dashoffset="2.58"/>
<line x1="464.77" y1="13.9" x2="464.77" y2="376.3" stroke="#6262ff" stroke-width="1.05" stroke-dasharray="1.9 2.93" stroke-dashoffset="2.58"/>
<line x1="487.04" y1="13.9" x2="487.04" y2="376.3" stroke="#6262ff" stroke-width="1.05" stroke-dasharray="1.9 2.93" stroke-dashoffset="2.58"/>
<text transform="translate(88.35,365.10) rotate(-90)" font-size="11" fill="#0c0cff" stroke="#0c0cff" stroke-width="0.3">420</text>
<text transform="translate(108.36,364.20) rotate(-90)" font-size="11" fill="#0c0cff" stroke="#0c0cff" stroke-width="0.3">482</text>
<text transform="translate(114.82,343.30) rotate(-90)" font-size="11" fill="#0c0cff" stroke="#0c0cff" stroke-width="0.3">502</text>
<text transform="translate(125.47,353.30) rotate(-90)" font-size="11" fill="#0c0cff" stroke="#0c0cff" stroke-width="0.3">535</text>
<text transform="translate(140.63,359.70) rotate(-90)" font-size="11" fill="#0c0cff" stroke="#0c0cff" stroke-width="0.3">582</text>
<text transform="translate(145.80,337.10) rotate(-90)" font-size="11" fill="#0c0cff" stroke="#0c0cff" stroke-width="0.3">598</text>
<text transform="translate(156.77,365.10) rotate(-90)" font-size="11" fill="#0c0cff" stroke="#0c0cff" stroke-width="0.3">632</text>
<text transform="translate(169.03,342.40) rotate(-90)" font-size="11" fill="#0c0cff" stroke="#0c0cff" stroke-width="0.3">670</text>
<text transform="translate(187.43,340.70) rotate(-90)" font-size="11" fill="#0c0cff" stroke="#0c0cff" stroke-width="0.3">727</text>
<text transform="translate(198.72,310.20) rotate(-90)" font-size="11" fill="#0c0cff" stroke="#0c0cff" stroke-width="0.3">762</text>
<text transform="translate(206.47,246.80) rotate(-90)" font-size="11" fill="#0c0cff" stroke="#0c0cff" stroke-width="0.3">786</text>
<text transform="translate(214.21,303.90) rotate(-90)" font-size="11" fill="#0c0cff" stroke="#0c0cff" stroke-width="0.3">810</text>
<text transform="translate(231.31,349.70) rotate(-90)" font-size="11" fill="#0c0cff" stroke="#0c0cff" stroke-width="0.3">863</text>
<text transform="translate(239.06,333.50) rotate(-90)" font-size="11" fill="#0c0cff" stroke="#0c0cff" stroke-width="0.3">887</text>
<text transform="translate(248.42,353.20) rotate(-90)" font-size="11" fill="#0c0cff" stroke="#0c0cff" stroke-width="0.3">916</text>
<text transform="translate(272.62,175.70) rotate(-90)" font-size="11" fill="#0c0cff" stroke="#0c0cff" stroke-width="0.3">991</text>
<text transform="translate(278.43,71.00) rotate(-90)" font-size="11" fill="#0c0cff" stroke="#0c0cff" stroke-width="0.3">1009</text>
<text transform="translate(305.86,293.80) rotate(-90)" font-size="11" fill="#0c0cff" stroke="#0c0cff" stroke-width="0.3">1094</text>
<text transform="translate(334.26,358.10) rotate(-90)" font-size="11" fill="#0c0cff" stroke="#0c0cff" stroke-width="0.3">1182</text>
<text transform="translate(355.88,305.40) rotate(-90)" font-size="11" fill="#0c0cff" stroke="#0c0cff" stroke-width="0.3">1249</text>
<text transform="translate(378.15,305.10) rotate(-90)" font-size="11" fill="#0c0cff" stroke="#0c0cff" stroke-width="0.3">1318</text>
<text transform="translate(382.99,280.00) rotate(-90)" font-size="11" fill="#0c0cff" stroke="#0c0cff" stroke-width="0.3">1333</text>
<text transform="translate(396.22,310.50) rotate(-90)" font-size="11" fill="#0c0cff" stroke="#0c0cff" stroke-width="0.3">1374</text>
<text transform="translate(411.06,356.90) rotate(-90)" font-size="11" fill="#0c0cff" stroke="#0c0cff" stroke-width="0.3">1420</text>
<text transform="translate(431.72,261.00) rotate(-90)" font-size="11" fill="#0c0cff" stroke="#0c0cff" stroke-width="0.3">1484</text>
<text transform="translate(446.56,364.10) rotate(-90)" font-size="11" fill="#0c0cff" stroke="#0c0cff" stroke-width="0.3">1530</text>
<text transform="translate(461.08,268.30) rotate(-90)" font-size="11" fill="#0c0cff" stroke="#0c0cff" stroke-width="0.3">1575</text>
<text transform="translate(469.47,323.80) rotate(-90)" font-size="11" fill="#0c0cff" stroke="#0c0cff" stroke-width="0.3">1601</text>
<text transform="translate(491.74,325.60) rotate(-90)" font-size="11" fill="#0c0cff" stroke="#0c0cff" stroke-width="0.3">1670</text>
<path d="M77.3,12.9 H529.0 V376.8 H77.3 Z" fill="none" stroke="#000" stroke-width="1.6"/>
<line x1="70.3" y1="376.80" x2="77.3" y2="376.80" stroke="#000" stroke-width="1.6"/>
<text x="64.9" y="380.80" font-size="15.5" font-weight="bold" text-anchor="end">0.00</text>
<line x1="70.3" y1="324.81" x2="77.3" y2="324.81" stroke="#000" stroke-width="1.6"/>
<text x="64.9" y="328.81" font-size="15.5" font-weight="bold" text-anchor="end">0.01</text>
<line x1="70.3" y1="272.82" x2="77.3" y2="272.82" stroke="#000" stroke-width="1.6"/>
<text x="64.9" y="276.82" font-size="15.5" font-weight="bold" text-anchor="end">0.02</text>
<line x1="70.3" y1="220.83" x2="77.3" y2="220.83" stroke="#000" stroke-width="1.6"/>
<text x="64.9" y="224.83" font-size="15.5" font-weight="bold" text-anchor="end">0.03</text>
<line x1="70.3" y1="168.84" x2="77.3" y2="168.84" stroke="#000" stroke-width="1.6"/>
<text x="64.9" y="172.84" font-size="15.5" font-weight="bold" text-anchor="end">0.04</text>
<line x1="70.3" y1="116.85" x2="77.3" y2="116.85" stroke="#000" stroke-width="1.6"/>
<text x="64.9" y="120.85" font-size="15.5" font-weight="bold" text-anchor="end">0.05</text>
<line x1="70.3" y1="64.86" x2="77.3" y2="64.86" stroke="#000" stroke-width="1.6"/>
<text x="64.9" y="68.86" font-size="15.5" font-weight="bold" text-anchor="end">0.06</text>
<line x1="70.3" y1="12.87" x2="77.3" y2="12.87" stroke="#000" stroke-width="1.6"/>
<text x="64.9" y="16.87" font-size="15.5" font-weight="bold" text-anchor="end">0.07</text>
<line x1="77.20" y1="376.8" x2="77.20" y2="383.5" stroke="#000" stroke-width="1.6"/>
<text x="77.20" y="400.5" font-size="15.5" font-weight="bold" text-anchor="middle">400</text>
<line x1="109.47" y1="376.8" x2="109.47" y2="380.2" stroke="#000" stroke-width="1.6"/>
<line x1="141.74" y1="376.8" x2="141.74" y2="383.5" stroke="#000" stroke-width="1.6"/>
<text x="141.74" y="400.5" font-size="15.5" font-weight="bold" text-anchor="middle">600</text>
<line x1="174.01" y1="376.8" x2="174.01" y2="380.2" stroke="#000" stroke-width="1.6"/>
<line x1="206.28" y1="376.8" x2="206.28" y2="383.5" stroke="#000" stroke-width="1.6"/>
<text x="206.28" y="400.5" font-size="15.5" font-weight="bold" text-anchor="middle">800</text>
<line x1="238.56" y1="376.8" x2="238.56" y2="380.2" stroke="#000" stroke-width="1.6"/>
<line x1="270.83" y1="376.8" x2="270.83" y2="383.5" stroke="#000" stroke-width="1.6"/>
<text x="270.83" y="400.5" font-size="15.5" font-weight="bold" text-anchor="middle">1000</text>
<line x1="303.10" y1="376.8" x2="303.10" y2="380.2" stroke="#000" stroke-width="1.6"/>
<line x1="335.37" y1="376.8" x2="335.37" y2="383.5" stroke="#000" stroke-width="1.6"/>
<text x="335.37" y="400.5" font-size="15.5" font-weight="bold" text-anchor="middle">1200</text>
<line x1="367.64" y1="376.8" x2="367.64" y2="380.2" stroke="#000" stroke-width="1.6"/>
<line x1="399.91" y1="376.8" x2="399.91" y2="383.5" stroke="#000" stroke-width="1.6"/>
<text x="399.91" y="400.5" font-size="15.5" font-weight="bold" text-anchor="middle">1400</text>
<line x1="432.18" y1="376.8" x2="432.18" y2="380.2" stroke="#000" stroke-width="1.6"/>
<line x1="464.45" y1="376.8" x2="464.45" y2="383.5" stroke="#000" stroke-width="1.6"/>
<text x="464.45" y="400.5" font-size="15.5" font-weight="bold" text-anchor="middle">1600</text>
<line x1="496.72" y1="376.8" x2="496.72" y2="380.2" stroke="#000" stroke-width="1.6"/>
<line x1="528.99" y1="376.8" x2="528.99" y2="383.5" stroke="#000" stroke-width="1.6"/>
<text x="528.99" y="400.5" font-size="15.5" font-weight="bold" text-anchor="middle">1800</text>
<text x="303.3" y="436.8" font-size="22.5" font-weight="bold" text-anchor="middle">Raman shift (cm<tspan dy="-7.9" font-size="13.5">&#8722;</tspan><tspan dy="-1.6" font-size="13.5">1</tspan><tspan dy="9.5">)</tspan></text>
<text transform="translate(26.2,194.5) rotate(-90)" font-size="22.2" font-weight="bold" text-anchor="middle">Intensity (<tspan font-style="italic">k</tspan>counts/mW&#215;s)</text>
<rect x="289.0" y="18.6" width="236.3" height="63.6" fill="#777"/>
<rect x="287.2" y="16.8" width="236.3" height="63.6" fill="#fff" stroke="#c8c8c8" stroke-width="1"/>
<g font-size="12.2">
<text x="288.9" y="30.3" font-weight="bold">Samples:</text>
<text x="288.9" y="45.3" font-style="italic">DNA-Cell lines:</text>
<text x="288.9" y="59.7" font-style="italic" font-weight="bold"><tspan fill="#18b018">[LX2]</tspan>; <tspan fill="#1cc4cc">[CCD1137]</tspan>; <tspan fill="#e80000">[U266]</tspan>; <tspan fill="#ff6464">[MM1S]</tspan></text>
<text x="288.9" y="75.5">Raman spectra. Laser wavelength: <tspan font-style="italic">532 nm</tspan></text>
</g>
</svg></body></html>
